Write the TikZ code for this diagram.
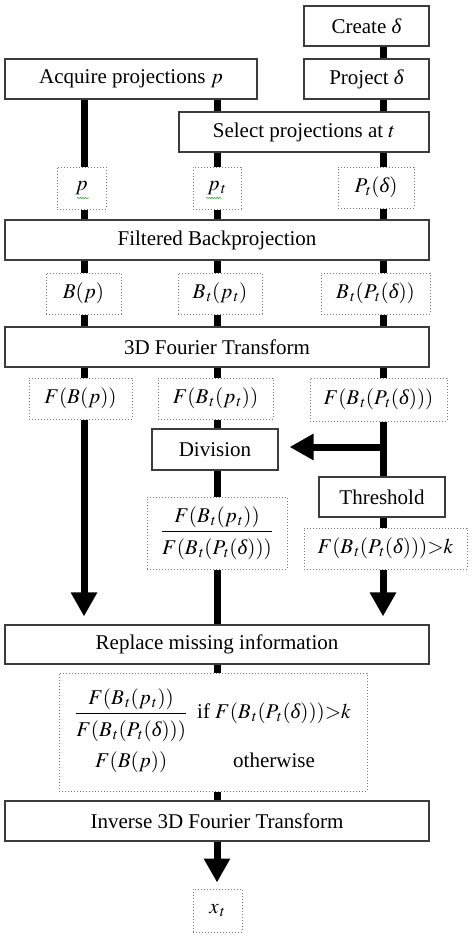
\documentclass[tikz,border=0pt]{standalone}
\usepackage{mathptmx}
\usepackage[no-math]{fontspec}
\setmainfont{Liberation Serif}
\usetikzlibrary{arrows.meta,decorations.pathmorphing}
\definecolor{boxgray}{RGB}{60,60,60}
\definecolor{dotgray}{RGB}{120,120,120}
\definecolor{squig}{RGB}{60,170,60}
\newcommand{\dl}{\mbox{\itshape δ}}
\newcommand{\st}{{\kern1.2pt t}}
\newcommand{\myfrac}{\displaystyle\frac{F(B_\st(p_\st))\rule[-6pt]{0pt}{6pt}}{\rule{0pt}{20pt}F(B_\st(P_\st(\dl)))}}
\begin{document}
\begin{tikzpicture}[x=1pt,y=-1pt,
  solidbox/.style={draw=boxgray, line width=1.2pt, fill=white, inner sep=0pt,
    font=\fontsize{21}{25}\selectfont},
  dotbox/.style={draw=dotgray, dotted, line width=1pt, fill=white, inner sep=0pt,
    font=\fontsize{21}{25}\selectfont},
  flow/.style={line width=7pt, black},
  flowarrow/.style={line width=7pt, black, -{Triangle[width=25pt,length=24pt]}},
  squiggle/.style={draw=squig, line width=0.6pt, decorate,
    decoration={snake, amplitude=0.7pt, segment length=2.6pt}}]
\useasboundingbox (0,0) rectangle (474,939);
\coordinate (cL) at (84,0);
\coordinate (cM) at (217,0);
\coordinate (cR) at (383,0);

% solid boxes
\node[solidbox, minimum width=125pt, minimum height=40pt] (create) at (366.5,26) {Create $\dl$};
\node[solidbox, minimum width=252pt, minimum height=40pt] (acquire) at (131,79) {Acquire projections $p$};
\node[solidbox, minimum width=125pt, minimum height=40pt] (project) at (366.5,79) {Project $\dl$};
\node[solidbox, minimum width=250pt, minimum height=40pt] (select) at (304,132) {Select projections at $t$};
\node[solidbox, minimum width=424pt, minimum height=40pt] (fbp) at (217,240) {Filtered Backprojection};
\node[solidbox, minimum width=424pt, minimum height=40pt] (ft) at (217,347) {3D Fourier Transform};
\node[solidbox, minimum width=126pt, minimum height=41pt] (div) at (215,449.5) {Division};
\node[solidbox, minimum width=126pt, minimum height=40pt] (thr) at (382,497) {Threshold};
\node[solidbox, minimum width=424pt, minimum height=39pt] (replace) at (217,644.5) {Replace missing information};
\node[solidbox, minimum width=424pt, minimum height=40pt] (inv) at (217,821) {Inverse 3D Fourier Transform};

% dotted boxes
\node[dotbox, minimum width=49pt, minimum height=42pt] (p) at (81.5,188) {$p$};
\node[dotbox, minimum width=48pt, minimum height=42pt] (pt) at (217,188) {$p_\st$};
\node[dotbox, minimum width=76pt, minimum height=41pt] (Ptd) at (376,187.5) {$P_\st(\dl)$};
\node[dotbox, minimum width=75pt, minimum height=41pt] (Bp) at (83.5,293.5) {$B(p)$};
\node[dotbox, minimum width=84pt, minimum height=41pt] (Btpt) at (220,293.5) {$B_\st(p_\st)$};
\node[dotbox, minimum width=109pt, minimum height=41pt] (BtPtd) at (375.5,293.5) {$B_\st(P_\st(\dl))$};
\node[dotbox, minimum width=103pt, minimum height=41pt] (FBp) at (80.5,398.5) {$F(B(p))$};
\node[dotbox, minimum width=115pt, minimum height=41pt] (FBtpt) at (215.5,398.5) {$F(B_\st(p_\st))$};
\node[dotbox, minimum width=137pt, minimum height=43pt] (FBtPtd) at (378.5,399.5) {$F(B_\st(P_\st(\dl)))$};
\node[dotbox, minimum width=140pt, minimum height=72pt] (frac) at (217,533) {$\myfrac$};
\node[dotbox, minimum width=163pt, minimum height=41pt] (gtk) at (385.5,548.5) {$F(B_\st(P_\st(\dl))){>}k$};
\node[dotbox, minimum width=308pt, minimum height=118pt] (big) at (213,732) {%
  \begin{tabular}{@{}c@{\hspace{10pt}}c@{}}
  $\myfrac$ & if\ $F(B_\st(P_\st(\dl))){>}k$\\
  \noalign{\vskip 9pt}
  $F(B(p))$ & otherwise
  \end{tabular}};
\node[dotbox, minimum width=49pt, minimum height=43pt] (xt) at (217.5,910.5) {$x_\st$};

% spell-check squiggles
\draw[squiggle] (77,198) -- (89,198);
\draw[squiggle] (206,198) -- (221,198);

% left column
\draw[flow] (acquire.south -| cL) -- (p.north -| cL);
\draw[flow] (p.south -| cL) -- (fbp.north -| cL);
\draw[flow] (fbp.south -| cL) -- (Bp.north -| cL);
\draw[flow] (Bp.south -| cL) -- (ft.north -| cL);
\draw[flow] (ft.south -| cL) -- (FBp.north -| cL);
\draw[flowarrow, shorten >=8pt] (FBp.south -| cL) -- (replace.north -| cL);

% middle column
\draw[flow] (acquire.south -| cM) -- (select.north -| cM);
\draw[flow] (select.south -| cM) -- (pt.north -| cM);
\draw[flow] (pt.south -| cM) -- (fbp.north -| cM);
\draw[flow] (fbp.south -| cM) -- (Btpt.north -| cM);
\draw[flow] (Btpt.south -| cM) -- (ft.north -| cM);
\draw[flow] (ft.south -| cM) -- (FBtpt.north -| cM);
\draw[flow] (FBtpt.south -| cM) -- (div.north -| cM);
\draw[flow] (div.south -| cM) -- (frac.north -| cM);
\draw[flow] (frac.south -| cM) -- (replace.north -| cM);

% right column
\draw[flow] (create.south -| cR) -- (project.north -| cR);
\draw[flow] (project.south -| cR) -- (select.north -| cR);
\draw[flow] (select.south -| cR) -- (Ptd.north -| cR);
\draw[flow] (Ptd.south -| cR) -- (fbp.north -| cR);
\draw[flow] (fbp.south -| cR) -- (BtPtd.north -| cR);
\draw[flow] (BtPtd.south -| cR) -- (ft.north -| cR);
\draw[flow] (ft.south -| cR) -- (FBtPtd.north -| cR);
\draw[flow] (FBtPtd.south -| cR) -- (thr.north -| cR);
\draw[flow] (thr.south -| cR) -- (gtk.north -| cR);
\draw[flowarrow, shorten >=8pt] (gtk.south -| cR) -- (replace.north -| cR);
\coordinate (branch) at (386.5,447);
\draw[flowarrow, shorten >=11pt] (branch) -- (div.east |- branch);

% bottom
\draw[flow] (replace.south -| cM) -- (big.north -| cM);
\draw[flow] (big.south -| cM) -- (inv.north -| cM);
\draw[flowarrow, shorten >=6pt] (inv.south -| cM) -- (xt.north -| cM);
\end{tikzpicture}
\end{document}
